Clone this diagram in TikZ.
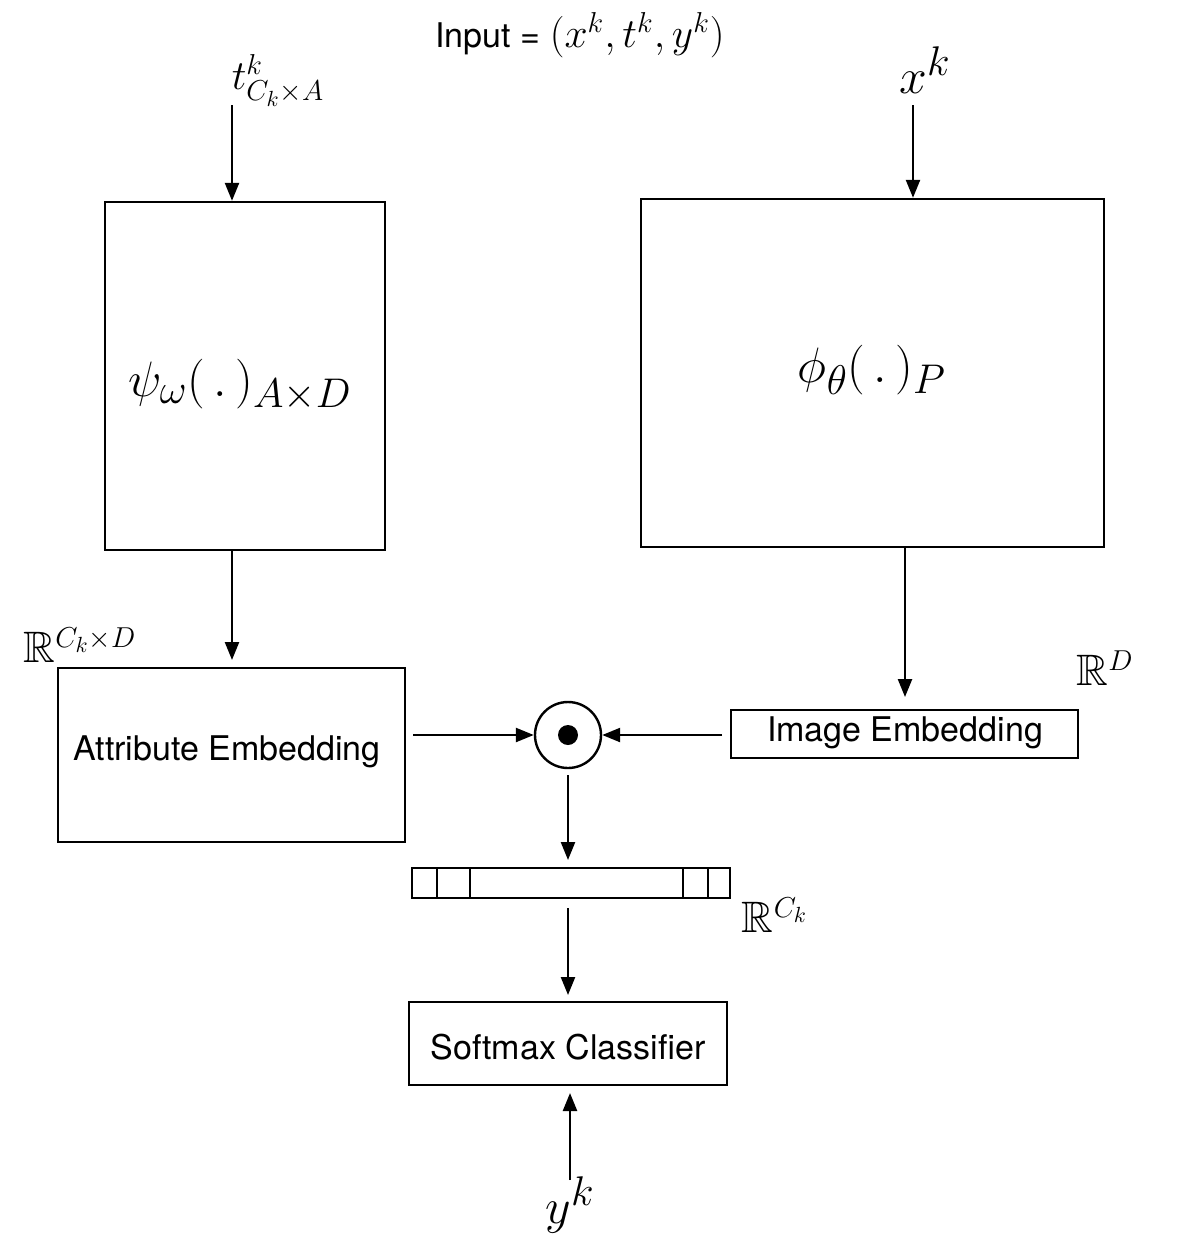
\documentclass[tikz,border=0pt]{standalone}
\usepackage{amssymb}
\usepackage{fontspec}
\setmainfont{TeX Gyre Heros}
\usetikzlibrary{arrows.meta}
\begin{document}
\begin{tikzpicture}[x=0.5pt,y=-0.5pt,
  box/.style={draw,line width=1.2pt},
  arr/.style={-{Triangle[length=9pt,width=7pt]},line width=1.2pt},
  lab/.style={font=\fontsize{17}{20}\selectfont},
  big/.style={font=\fontsize{28}{32}\selectfont},
  mid/.style={font=\fontsize{22}{26}\selectfont}]
\useasboundingbox (0,0) rectangle (1190,1239);
\node[lab] (inp) at (580,35) {Input = \fontsize{22}{26}\selectfont$(x^k,t^k,y^k)$};
\node[mid] (tl) at (278,80) {$t^k_{C_k\times A}$};
\coordinate (ts) at (232,105);
\node[box,minimum width=140pt,minimum height=174pt] (psi) at (245,376) {};
\node[big] (psit) at (240,385) {$\psi_\omega(\,.\,)_{A\times D}$};
\node[big] (xl) at (925,70) {$x^k$};
\coordinate (xs) at (913,105);
\node[box,minimum width=231.5pt,minimum height=174pt] (phi) at (872.5,373) {};
\node[big] (phit) at (872,370) {$\phi_\theta(\,.\,)_P$};
\node[mid] (rcd) at (80,645) {$\mathbb{R}^{C_k\times D}$};
\node[box,minimum width=173.5pt,minimum height=87pt] (att) at (231.5,755) {};
\node[lab] (attt) at (227,752) {Attribute Embedding};
\node[mid] (rd) at (1105,668) {$\mathbb{R}^D$};
\node[box,minimum width=173.5pt,minimum height=24pt] (img) at (904.5,734) {};
\node[lab] (imgt) at (905,733) {Image Embedding};
\node[draw,circle,line width=1.2pt,minimum size=33pt] (od) at (568,735) {};
\fill (od.center) circle (5pt);
\draw[box] (412,868) rectangle (730,898);
\foreach \x in {437,470,683,708} \draw[line width=1.2pt] (\x,868) -- (\x,898);
\coordinate (vt) at (568,868);
\coordinate (vb) at (568,908);
\node[mid] (rc) at (775,915) {$\mathbb{R}^{C_k}$};
\node[box,minimum width=159pt,minimum height=41.5pt] (sm) at (568,1043.5) {};
\node[lab] (smt) at (568,1047) {Softmax Classifier};
\node[big] (yl) at (570,1205) {$y^k$};
\draw[arr] (ts) -- (psi.north -| ts);
\draw[arr] (xs) -- (phi.north -| xs);
\draw[arr] (232,550) -- (232,660);
\draw[arr] (905,547) -- (905,697);
\draw[arr] (413,735) -- (od.west);
\draw[arr] (722,735) -- (od.east);
\draw[arr] (568,775) -- (568,860);
\draw[arr] (vb) -- (568,995);
\draw[arr] (570,1180) -- (570,1093);
\end{tikzpicture}
\end{document}
